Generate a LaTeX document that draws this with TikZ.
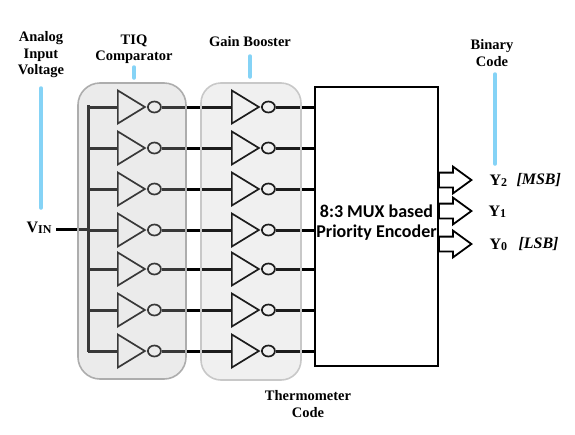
\documentclass[tikz,border=0pt]{standalone}
\usepackage{fontspec}
\setmainfont{Liberation Serif}
\newfontfamily\encfont{Carlito}
\usetikzlibrary{positioning}
\usetikzlibrary{shapes.geometric}
\usetikzlibrary{shapes.arrows}
\definecolor{tiqfill}{HTML}{BCBCBC}
\definecolor{tiqline}{HTML}{ADADAD}
\definecolor{gainfill}{HTML}{A7A7A7}
\definecolor{gainline}{HTML}{C8C8C8}
\definecolor{markblue}{HTML}{85D3F6}
\newcommand{\lowtxt}[1]{\raisebox{-1.5pt}{\fontsize{12}{12}\selectfont #1}}
\tikzset{
  invtri/.style={
    draw, isosceles triangle, isosceles triangle stretches, shape border rotate=0,
    minimum width=33pt, minimum height=27pt, inner sep=0pt, line width=1.7pt,
    anchor=lower side},
  invdot/.style={
    draw, ellipse, minimum width=13pt, minimum height=11pt, inner sep=0pt,
    line width=1.7pt, anchor=west},
  wire/.style={line width=3pt},
  tiqbox/.style={
    draw=tiqline, fill=tiqfill, fill opacity=0.3, rounded corners=22pt,
    line width=1.6pt, minimum width=108pt, minimum height=296pt, inner sep=0pt},
  gainbox/.style={
    draw=gainline, fill=gainfill, fill opacity=0.17, rounded corners=20pt,
    line width=1.6pt, minimum width=100pt, minimum height=297pt, inner sep=0pt},
  outarrow/.style={
    draw, fill=white, single arrow, single arrow head extend=6pt,
    single arrow tip angle=72, line width=1.8pt,
    minimum height=32.5pt, inner sep=0pt, anchor=west},
  marker/.style={draw=markblue, line width=3.5pt, line cap=round},
  lbl/.style={font=\fontsize{14.5}{16.5}\selectfont\bfseries, align=center},
  ylbl/.style={font=\fontsize{16}{16}\selectfont\bfseries, anchor=west},
  tag/.style={font=\fontsize{16}{16}\selectfont\bfseries\itshape, anchor=west},
}
\begin{document}
\begin{tikzpicture}[x=1pt, y=-1pt]
\useasboundingbox (0,0) rectangle (575,434);

% Encoder block.
\node[draw, line width=2pt, minimum width=123pt, minimum height=279pt, inner sep=0pt]
  (encoder) at (376.5, 226.5) {};
\node[font=\encfont\fontsize{18}{20}\selectfont\bfseries, align=center]
  (enclbl) at (376.5, 222.5) {8:3 MUX based\\Priority Encoder};

% Input bus.
\coordinate (bustop) at (88, 105);
\coordinate (busend) at (88, 352);
\draw[wire] (bustop) -- (busend);

% One row per thermometer bit.
\foreach \row/\y in {1/107, 2/148, 3/189, 4/230, 5/269, 6/310, 7/351} {
  \coordinate (tap\row) at (88, \y);
  \node[invtri] (cmp\row) at (117, \y) {};
  \node[invdot] (cmpdot\row) at (cmp\row.apex) {};
  \node[invtri] (amp\row) at (231, \y) {};
  \node[invdot] (ampdot\row) at (amp\row.apex) {};
  \draw[wire] (tap\row) -- (cmp\row.lower side);
  \draw[wire] (cmpdot\row.east) -- (amp\row.lower side);
  \draw[wire] (ampdot\row.east) -- (ampdot\row.east -| encoder.west);
}

% Input pin.
\node[font=\fontsize{16}{16}\selectfont\bfseries] (vin) at (39, 228)
  {V\lowtxt{IN}};
\coordinate (vinpin) at (56, 229);
\draw[wire] (vinpin) -- (vinpin -| tap4);

% Shaded groups go over the wires.
\node[tiqbox] (tiq) at (132, 231) {};
\node[gainbox] (gain) at (251, 231.5) {};

% Outputs.
\node[outarrow] (out2) at (438, 180) {\rule{0pt}{13pt}};
\node[outarrow] (out1) at (438, 211) {\rule{0pt}{13pt}};
\node[outarrow] (out0) at (438, 244) {\rule{0pt}{13pt}};
\node[ylbl] (y2) at (486, 181) {Y\lowtxt{2}};
\node[ylbl] (y1) at (485, 212) {Y\lowtxt{1}};
\node[ylbl] (y0) at (486, 245) {Y\lowtxt{0}};
\node[tag] (msb) at (513, 180) {[MSB]};
\node[tag] (lsb) at (515, 244) {[LSB]};

% Labels and their blue markers.
\node[lbl] (analog) at (41, 55) {Analog\\Input\\Voltage};
\node[lbl] (tiqlbl) at (134, 49) {TIQ\\Comparator};
\node[lbl] (gainlbl) at (250, 42) {Gain Booster};
\node[lbl] (binary) at (492, 53) {Binary\\Code};
\node[lbl] (thermo) at (308, 404) {Thermometer\\Code};
\draw[marker] (41, 88) coordinate (m1a) -- (41, 208) coordinate (m1b);
\draw[marker] (134, 67) coordinate (m2a) -- (134, 78) coordinate (m2b);
\draw[marker] (250, 56) coordinate (m3a) -- (250, 77) coordinate (m3b);
\draw[marker] (495, 74) coordinate (m4a) -- (495, 164) coordinate (m4b);

\end{tikzpicture}
\end{document}
